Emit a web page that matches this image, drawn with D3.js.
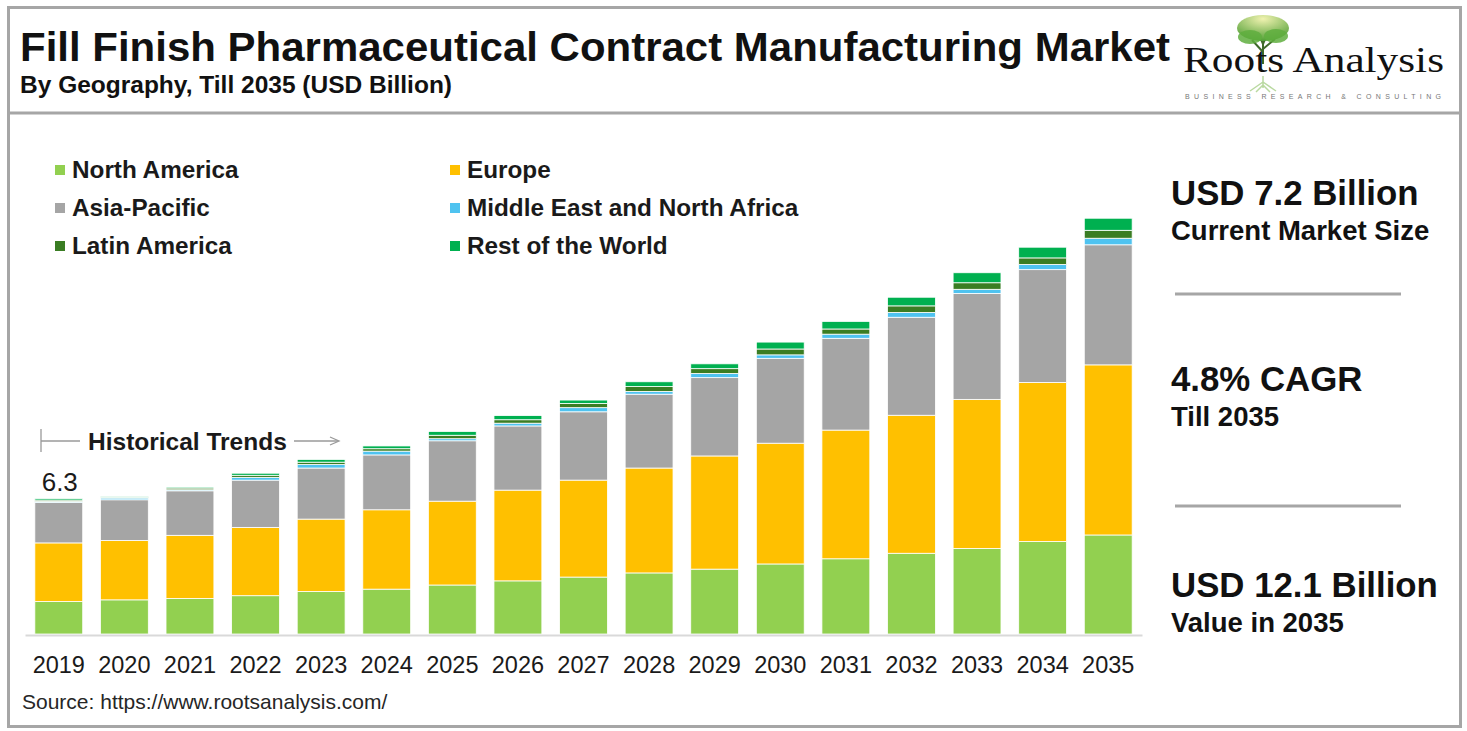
<!DOCTYPE html>
<html>
<head>
<meta charset="utf-8">
<script src="https://cdn.jsdelivr.net/npm/d3@7"></script>
<style>
  body { margin: 0; background: #fff; }
  svg text { font-family: "Liberation Sans", Arial, sans-serif; }
</style>
</head>
<body>
<div id="chart"></div>
<script>
// values (USD billion, approx.)
const years = ["2019","2020","2021","2022","2023","2024","2025","2026","2027","2028","2029","2030","2031","2032","2033","2034","2035"];
const northAmerica = [0.94,0.99,1.03,1.11,1.23,1.30,1.42,1.54,1.65,1.77,1.88,2.03,2.18,2.34,2.48,2.68,2.87];
const europe       = [1.70,1.72,1.83,1.98,2.10,2.30,2.43,2.63,2.81,3.04,3.28,3.50,3.73,4.00,4.32,4.61,4.93];
const asiaPacific  = [1.17,1.18,1.29,1.37,1.48,1.59,1.75,1.86,1.98,2.14,2.27,2.46,2.66,2.84,3.07,3.27,3.48];
const mena         = [0.03,0.05,0.03,0.08,0.10,0.11,0.06,0.08,0.12,0.08,0.12,0.10,0.12,0.14,0.12,0.15,0.19];
const latinAmerica = [0.04,0.02,0.05,0.06,0.07,0.07,0.10,0.10,0.12,0.14,0.14,0.17,0.15,0.19,0.19,0.19,0.23];
const restOfWorld  = [0.04,0.02,0.03,0.06,0.08,0.08,0.11,0.12,0.10,0.14,0.14,0.20,0.22,0.25,0.29,0.31,0.35];

const seriesNames = ["North America","Europe","Asia-Pacific","Middle East and North Africa","Latin America","Rest of the World"];
const seriesValues = [northAmerica, europe, asiaPacific, mena, latinAmerica, restOfWorld];
const seriesColors = ["#92d050","#ffc000","#a5a5a5","#4fc3f0","#3a7d23","#00b050"];
const firstLabel = "6.3";

const width = 1467, height = 731;

const svg = d3.select("#chart").append("svg")
    .attr("width", width)
    .attr("height", height)
    .attr("viewBox", [0, 0, width, height]);

// frame + header separator
svg.append("rect")
    .attr("x", 8.5).attr("y", 7.5)
    .attr("width", 1452).attr("height", 719)
    .attr("fill", "none")
    .attr("stroke", "#a6a6a6")
    .attr("stroke-width", 3);
svg.append("line")
    .attr("x1", 8).attr("x2", 1460)
    .attr("y1", 113).attr("y2", 113)
    .attr("stroke", "#a6a6a6")
    .attr("stroke-width", 3);

// titles
svg.append("text")
    .attr("x", 20).attr("y", 61)
    .attr("font-size", 41)
    .attr("font-weight", "bold")
    .attr("textLength", 1150)
    .attr("lengthAdjust", "spacingAndGlyphs")
    .attr("fill", "#111")
    .text("Fill Finish Pharmaceutical Contract Manufacturing Market");
svg.append("text")
    .attr("x", 20).attr("y", 93)
    .attr("font-size", 24.5)
    .attr("font-weight", "bold")
    .attr("fill", "#111")
    .text("By Geography, Till 2035 (USD Billion)");

// logo
const logo = svg.append("g");
const grad = svg.append("defs").append("radialGradient")
    .attr("id", "leaf").attr("cx", "50%").attr("cy", "15%").attr("r", "85%");
grad.append("stop").attr("offset", "0%").attr("stop-color", "#f0f2b0");
grad.append("stop").attr("offset", "100%").attr("stop-color", "#4f9e34");
logo.append("path")
    .attr("d", "M1263,64 L1263,42 M1263,52 L1252,40 M1263,49 L1275,39 M1263,44 L1258,32 M1263,44 L1268,32")
    .attr("stroke", "#3f6b2a").attr("stroke-width", 2).attr("fill", "none");
logo.append("ellipse").attr("cx", 1263).attr("cy", 28).attr("rx", 26).attr("ry", 13).attr("fill", "url(#leaf)");
logo.append("ellipse").attr("cx", 1250).attr("cy", 37).attr("rx", 12).attr("ry", 7).attr("fill", "#5fae3e").attr("opacity", 0.85);
logo.append("ellipse").attr("cx", 1276).attr("cy", 36).attr("rx", 12).attr("ry", 7).attr("fill", "#5fae3e").attr("opacity", 0.85);
logo.append("path")
    .attr("d", "M1263,76 L1263,88 M1263,82 L1250,91 M1263,82 L1276,91 M1263,85 L1256,92 M1263,85 L1270,92")
    .attr("stroke", "#b9d9a0").attr("stroke-width", 1.5).attr("fill", "none");
logo.append("text")
    .attr("x", 1183).attr("y", 72)
    .style("font-family", "'Liberation Serif', 'Times New Roman', serif")
    .attr("font-size", 36)
    .attr("textLength", 261)
    .attr("lengthAdjust", "spacingAndGlyphs")
    .attr("fill", "#111")
    .text("Roots Analysis");
logo.append("text")
    .attr("x", 1185).attr("y", 99)
    .attr("font-size", 7)
    .attr("textLength", 256)
    .attr("lengthAdjust", "spacing")
    .attr("fill", "#777")
    .text("BUSINESS RESEARCH & CONSULTING");

// legend
const legendPos = [[55,170],[450,170],[55,208],[450,208],[55,246],[450,246]];
const legend = svg.append("g").selectAll("g")
    .data(seriesNames)
    .join("g")
    .attr("transform", (d, i) => `translate(${legendPos[i][0]},${legendPos[i][1]})`);
legend.append("rect")
    .attr("x", 0).attr("y", -5)
    .attr("width", 10).attr("height", 10)
    .attr("fill", (d, i) => seriesColors[i]);
legend.append("text")
    .attr("x", 17).attr("y", 8)
    .attr("font-size", 24.3)
    .attr("font-weight", "bold")
    .attr("fill", "#1a1a1a")
    .text(d => d);

// stacked bars
const table = years.map((yr, j) => {
    const row = { year: yr };
    seriesNames.forEach((s, i) => row[s] = seriesValues[i][j]);
    return row;
});
const stacked = d3.stack().keys(seriesNames)(table);

const xScale = d3.scaleBand(years, [25, 1142]).paddingInner(0.27).paddingOuter(0.15);
const yScale = d3.scaleLinear([0, 12.1], [634, 216.5]);

svg.append("g")
    .selectAll("g")
    .data(stacked)
    .join("g")
    .attr("fill", (d, i) => seriesColors[i])
    .selectAll("rect")
    .data(d => d)
    .join("rect")
    .attr("x", d => xScale(d.data.year))
    .attr("y", d => yScale(d[1]))
    .attr("height", d => yScale(d[0]) - yScale(d[1]))
    .attr("width", xScale.bandwidth())
    .attr("stroke", "#fff")
    .attr("stroke-width", 0.8);

const xAxis = d3.axisBottom(xScale).tickSize(0).tickSizeOuter(0).tickPadding(21);
svg.append("g")
    .attr("transform", `translate(0,${yScale(0) + 1})`)
    .call(xAxis)
    .call(g => g.select(".domain").attr("stroke", "#d9d9d9").attr("stroke-width", 2))
    .call(g => g.selectAll(".tick text")
        .attr("font-family", "'Liberation Sans', Arial, sans-serif")
        .attr("font-size", 23.5)
        .attr("fill", "#1a1a1a"));

// first bar value
svg.append("text")
    .attr("x", xScale(years[0]) + xScale.bandwidth() / 2 + 1)
    .attr("y", 491)
    .attr("text-anchor", "middle")
    .attr("font-size", 26)
    .attr("fill", "#1a1a1a")
    .text(firstLabel);

// historical trends marker
const hist = svg.append("g").attr("stroke", "#9a9a9a").attr("stroke-width", 1.3).attr("fill", "none");
hist.append("line").attr("x1", 41).attr("x2", 41).attr("y1", 429).attr("y2", 452);
hist.append("line").attr("x1", 41).attr("x2", 80).attr("y1", 441).attr("y2", 441);
hist.append("line").attr("x1", 294).attr("x2", 338).attr("y1", 441).attr("y2", 441);
hist.append("path").attr("d", "M330,437 L339,441 L330,445");
svg.append("text")
    .attr("x", 88).attr("y", 450)
    .attr("font-size", 24.5)
    .attr("font-weight", "bold")
    .attr("fill", "#1a1a1a")
    .text("Historical Trends");

// right panel
const kpis = [
    { big: "USD 7.2 Billion", small: "Current Market Size", y: 205 },
    { big: "4.8% CAGR", small: "Till 2035", y: 391 },
    { big: "USD 12.1 Billion", small: "Value in 2035", y: 597 }
];
kpis.forEach(k => {
    svg.append("text")
        .attr("x", 1171).attr("y", k.y)
        .attr("font-size", 34.8)
        .attr("font-weight", "bold")
        .attr("fill", "#111")
        .text(k.big);
    svg.append("text")
        .attr("x", 1171).attr("y", k.y + 35)
        .attr("font-size", 27.5)
        .attr("font-weight", "bold")
        .attr("fill", "#111")
        .text(k.small);
});
[294, 506].forEach(y => {
    svg.append("line")
        .attr("x1", 1175).attr("x2", 1401)
        .attr("y1", y).attr("y2", y)
        .attr("stroke", "#a6a6a6")
        .attr("stroke-width", 3);
});

// source
svg.append("text")
    .attr("x", 22).attr("y", 709)
    .attr("font-size", 21)
    .attr("fill", "#262626")
    .text("Source: https://www.rootsanalysis.com/");
</script>
</body>
</html>
